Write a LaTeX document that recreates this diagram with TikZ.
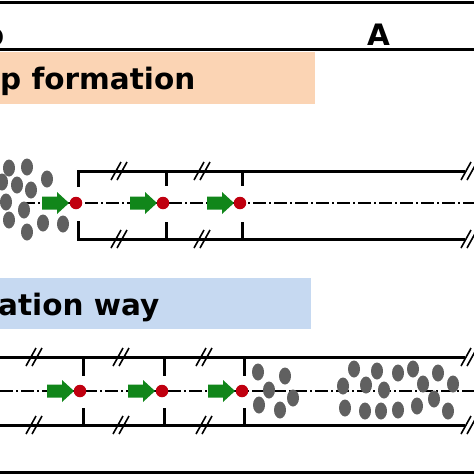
\documentclass[tikz,border=0pt]{standalone}
\usepackage{fontspec}
\setmainfont{DejaVu Sans}
\definecolor{peach}{HTML}{FBD4B4}
\definecolor{lightblue}{HTML}{C6D9F1}
\definecolor{partgray}{HTML}{606060}
\definecolor{arrowgreen}{HTML}{11861A}
\definecolor{dotred}{HTML}{C00010}
\begin{document}
\begin{tikzpicture}[x=1pt,y=-1pt,
  wall/.style={line width=3pt},
  sep/.style={line width=3pt},
  axisline/.style={line width=1.2pt, dash pattern=on 13pt off 3pt on 2pt off 3pt},
  title/.style={anchor=base west, inner sep=0pt, font=\bfseries\fontsize{29.5}{31}\selectfont},
  reddot/.style={circle, fill=dotred, inner sep=0pt, minimum size=12.5pt},
  particle/.style={fill=partgray},
  brk/.style={line width=1.6pt},
  garrow/.pic={\fill[arrowgreen] (0,-6.5) -- (15,-6.5) -- (15,-11) -- (27,0) -- (15,11) -- (15,6.5) -- (0,6.5) -- cycle;},
  slashes/.pic={\draw[brk] (-9,9) -- (1,-9); \draw[brk] (-3,9) -- (7,-9);}
]
\useasboundingbox (0,0) rectangle (474,474);

% header lines
\draw[sep] (0,2) -- (474,2);
\draw[sep] (0,49) -- (474,49);
\draw[sep] (0,472) -- (474,472);
\node[title] (lb) at (-17,45) {b};
\node[title] (la) at (367,45) {A};

% title boxes
\fill[peach] (0,52) rectangle (315,104);
\node[title] (t1) at (0,89) {p formation};
\fill[lightblue] (0,278) rectangle (311,329);
\node[title] (t2) at (-2,315) {ation way};

% ---------- top channel ----------
\coordinate (ta0) at (22,203);
\coordinate (ta1) at (474,203);
\draw[axisline] (ta0) -- (ta1);
\draw[wall] (78,187) -- (78,171) -- (465,171);
\draw[wall] (78,221) -- (78,239) -- (465,239);
\draw[wall] (166,171) -- (166,186);
\draw[wall] (166,222) -- (166,239);
\draw[wall] (242,171) -- (242,186);
\draw[wall] (242,222) -- (242,239);
\foreach \x in {120,203}{
  \pic at (\x,171) {slashes};
  \pic at (\x,239) {slashes};
}
\pic at (470,171) {slashes};
\pic at (470,239) {slashes};

\foreach \x/\y in {9/168, 27/167, 47/179, 2/182, 17/185, 31/190, 6/202, 24/210, 9/220, 43/223, 63/224, 27/232}{
  \fill[particle] (\x,\y) ellipse [x radius=6, y radius=8.5];
}
\pic at (42,203) {garrow};
\pic at (130,203) {garrow};
\pic at (207,203) {garrow};
\node[reddot] (d1) at (76,203) {};
\node[reddot] (d2) at (163,203) {};
\node[reddot] (d3) at (240,203) {};

% ---------- bottom channel ----------
\coordinate (ba0) at (0,391);
\coordinate (ba1) at (474,391);
\draw[axisline] (ba0) -- (ba1);
\draw[wall] (0,357) -- (465,357);
\draw[wall] (0,425) -- (465,425);
\foreach \x in {83,164,244}{
  \draw[wall] (\x,357) -- (\x,376);
  \draw[wall] (\x,408) -- (\x,425);
}
\foreach \x in {35,122,205}{
  \pic at (\x,357) {slashes};
  \pic at (\x,425) {slashes};
}
\pic at (470,357) {slashes};
\pic at (470,425) {slashes};

\foreach \x/\y in {258/372, 285/376, 269/390, 293/398, 259/405, 280/410,
  354/369, 377/371, 398/373, 413/369, 438/373,
  343/386, 366/385, 384/390, 423/384, 453/384,
  345/408, 365/411, 381/411, 398/410, 417/406, 434/399, 448/411}{
  \fill[particle] (\x,\y) ellipse [x radius=6, y radius=8.5];
}
\pic at (47,391) {garrow};
\pic at (128,391) {garrow};
\pic at (208,391) {garrow};
\node[reddot] (e1) at (80,391) {};
\node[reddot] (e2) at (162,391) {};
\node[reddot] (e3) at (242,391) {};
\end{tikzpicture}
\end{document}
